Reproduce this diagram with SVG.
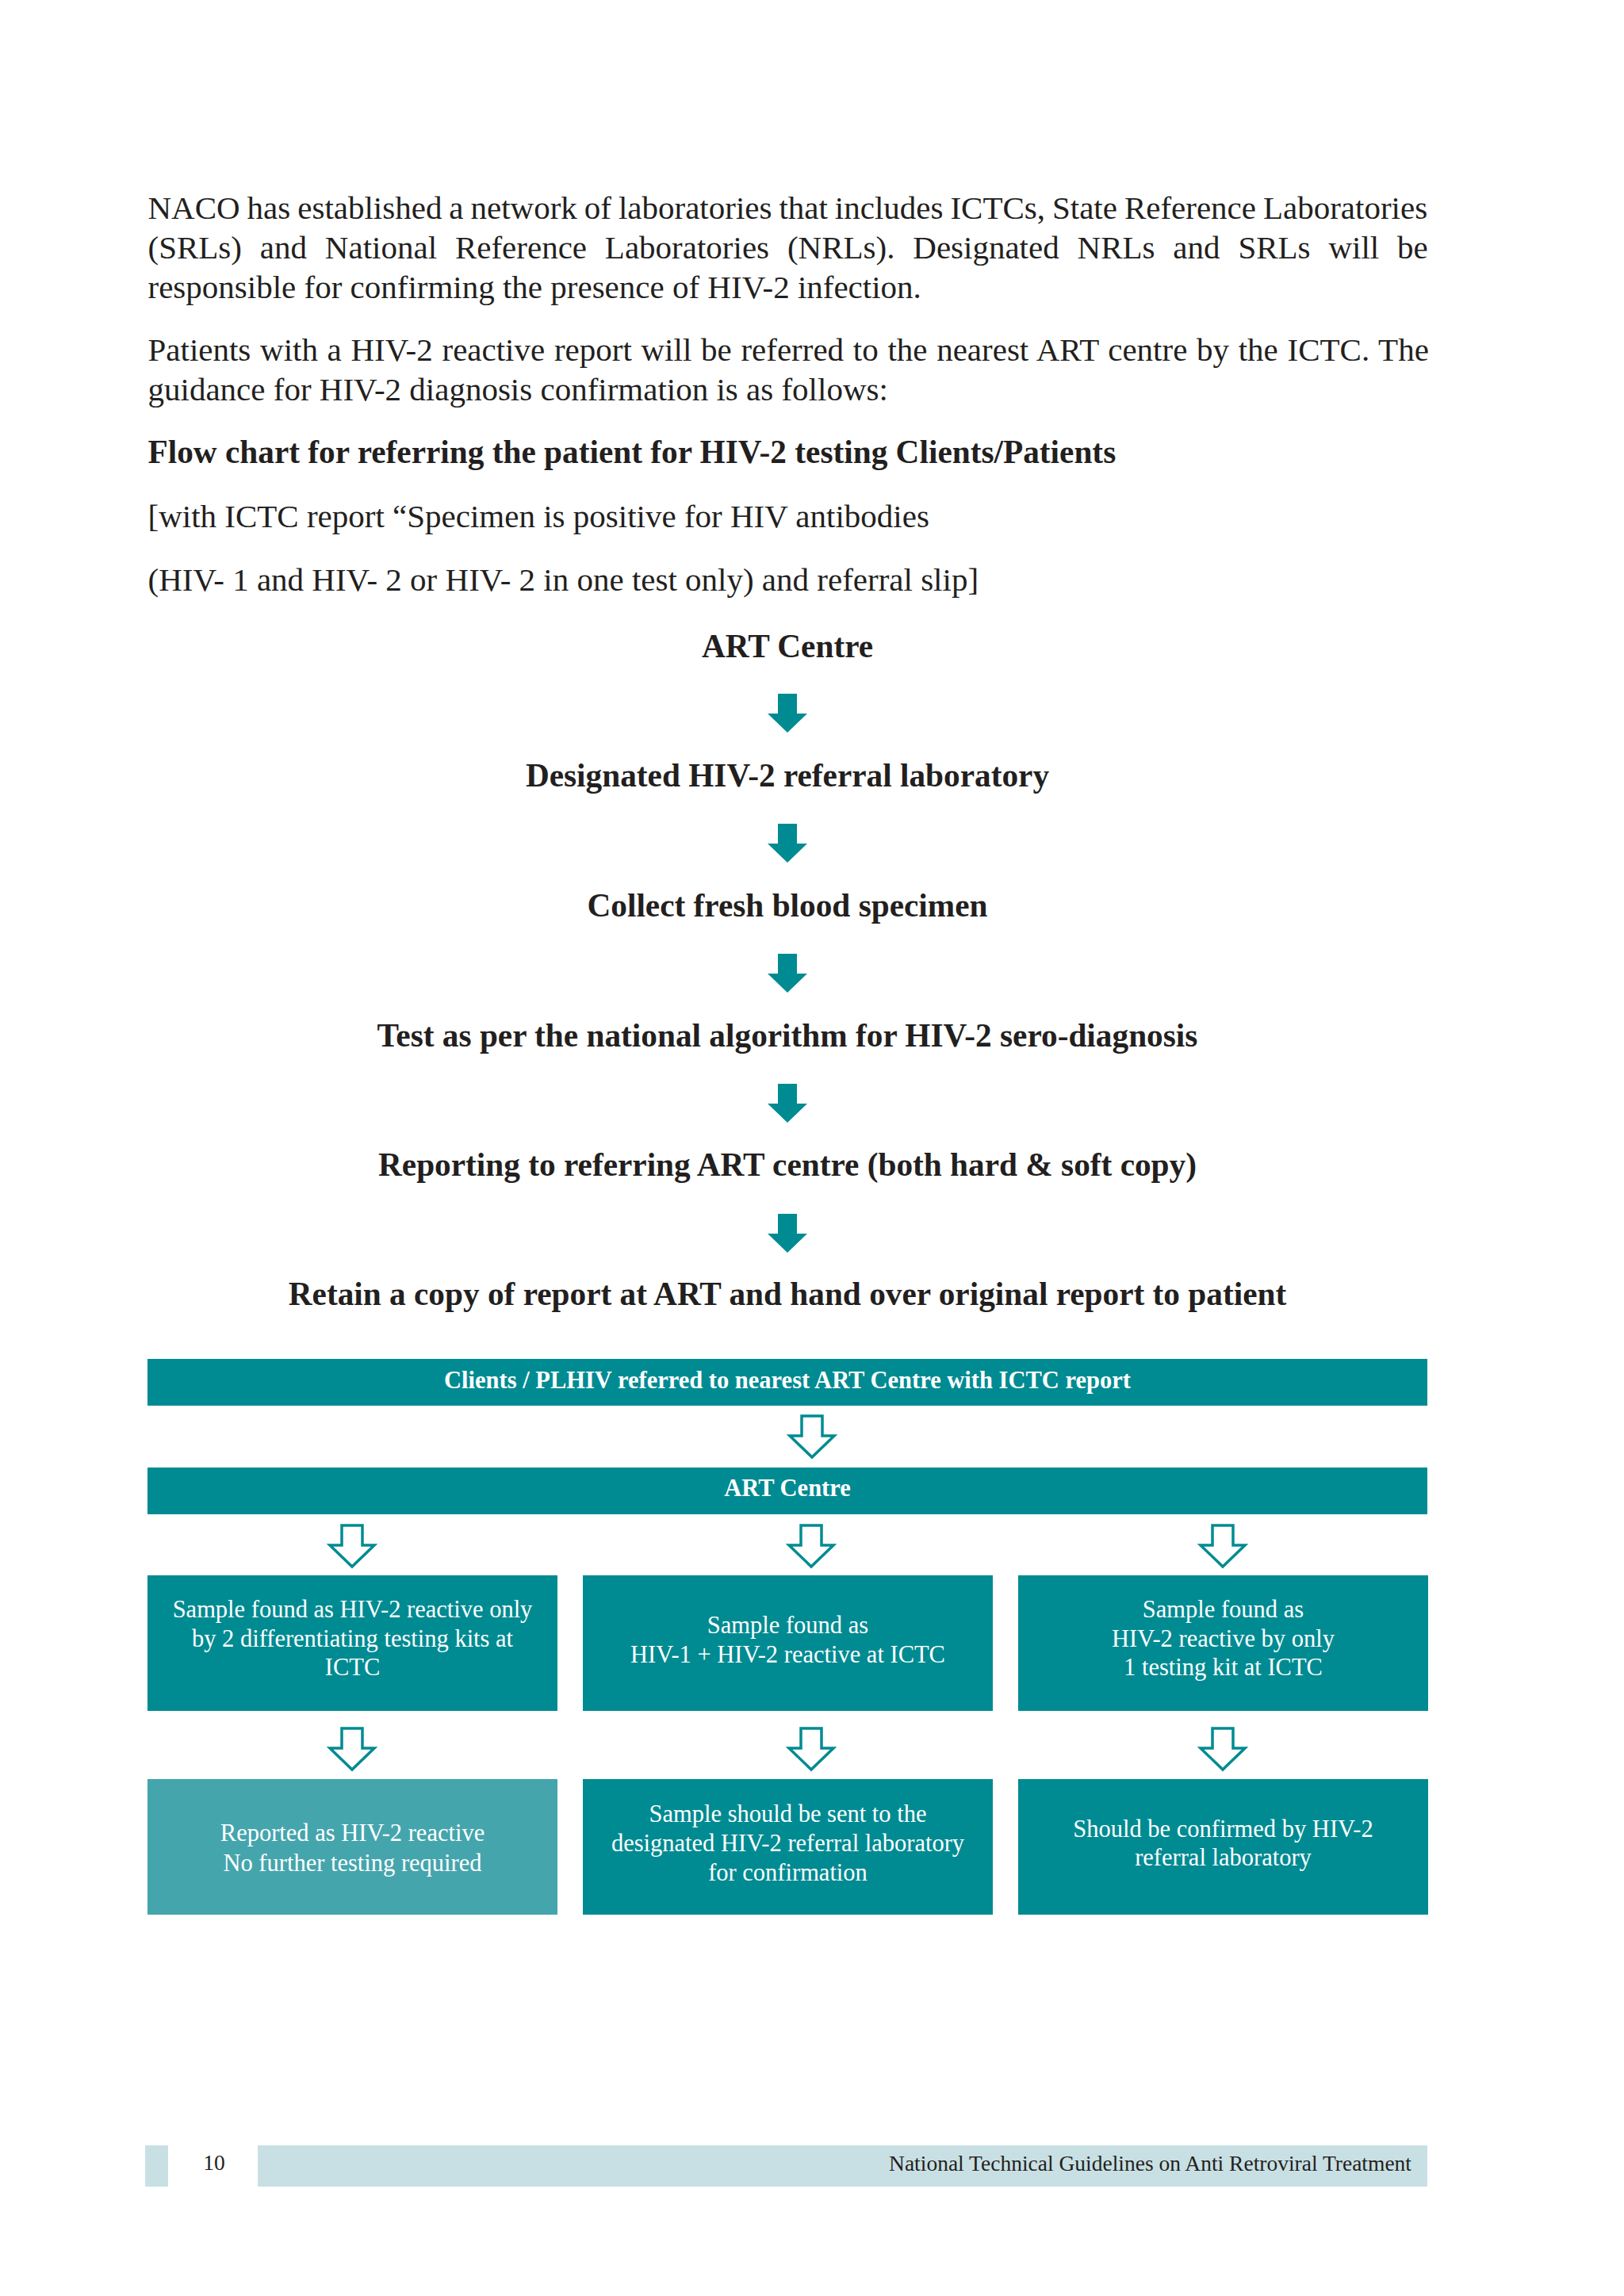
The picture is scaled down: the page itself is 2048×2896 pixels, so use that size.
<svg xmlns="http://www.w3.org/2000/svg" width="2048" height="2896" viewBox="0 0 2048 2896">
<style>
.body{font-family:"Liberation Serif","Times New Roman",serif;font-size:41px;fill:#231f20}
.bold{font-weight:bold;font-size:41.3px}
.ctr{text-anchor:middle}
.bar{fill:#008b92}
.light{fill:#45a5ad}
.wt{font-family:"Liberation Serif","Times New Roman",serif;font-size:30.5px;fill:#ffffff;text-anchor:middle}
.foot{font-family:"Liberation Serif","Times New Roman",serif;font-size:27.5px;fill:#231f20}
</style>
<defs>
<path id="solidArrow" d="M-12,0 H12 V25 H25 L0,49 L-25,25 H-12 Z" fill="#008b92"/>
<path id="hollowArrow" d="M-13,2 H13 V27 H28 L0,54 L-28,27 H-13 Z" fill="#ffffff" stroke="#008b92" stroke-width="3.5" stroke-linejoin="miter"/>
</defs>
<rect x="0" y="0" width="2048" height="2896" fill="#ffffff"/>

<g id="intro-text">
<text class="body" x="186.5" y="276" word-spacing="-1.3">NACO has established a network of laboratories that includes ICTCs, State Reference Laboratories</text>
<text class="body" x="186.5" y="326" word-spacing="12.6">(SRLs) and National Reference Laboratories (NRLs). Designated NRLs and SRLs will be</text>
<text class="body" x="186.5" y="376">responsible for confirming the presence of HIV-2 infection.</text>
<text class="body" x="186.5" y="455" word-spacing="1.45">Patients with a HIV-2 reactive report will be referred to the nearest ART centre by the ICTC. The</text>
<text class="body" x="186.5" y="505">guidance for HIV-2 diagnosis confirmation is as follows:</text>
<text class="body bold" x="186.5" y="584">Flow chart for referring the patient for HIV-2 testing Clients/Patients</text>
<text class="body" x="186.5" y="665">[with ICTC report “Specimen is positive for HIV antibodies</text>
<text class="body" x="186.5" y="745">(HIV- 1 and HIV- 2 or HIV- 2 in one test only) and referral slip]</text>
</g>

<g id="flow1-step1"><text class="body bold ctr" x="993" y="829">ART Centre</text></g>
<g id="flow1-step2"><text class="body bold ctr" x="993" y="992">Designated HIV-2 referral laboratory</text></g>
<g id="flow1-step3"><text class="body bold ctr" x="993" y="1156">Collect fresh blood specimen</text></g>
<g id="flow1-step4"><text class="body bold ctr" x="993" y="1320">Test as per the national algorithm for HIV-2 sero-diagnosis</text></g>
<g id="flow1-step5"><text class="body bold ctr" x="993" y="1483">Reporting to referring ART centre (both hard &amp; soft copy)</text></g>
<g id="flow1-step6"><text class="body bold ctr" x="993" y="1646">Retain a copy of report at ART and hand over original report to patient</text></g>

<g id="bar-clients">
<rect class="bar" x="186" y="1714" width="1614" height="59"/>
<text class="wt" font-weight="bold" x="993" y="1751">Clients / PLHIV referred to nearest ART Centre with ICTC report</text>
</g>
<g id="bar-art">
<rect class="bar" x="186" y="1851" width="1614" height="59"/>
<text class="wt" font-weight="bold" x="993" y="1887">ART Centre</text>
</g>

<g id="box-a1">
<rect class="bar" x="186" y="1987" width="517" height="171"/>
<text class="wt" x="444.5" y="2040">Sample found as HIV-2 reactive only</text>
<text class="wt" x="444.5" y="2077">by 2 differentiating testing kits at</text>
<text class="wt" x="444.5" y="2113">ICTC</text>
</g>
<g id="box-a2">
<rect class="bar" x="735" y="1987" width="517" height="171"/>
<text class="wt" x="993.5" y="2060">Sample found as</text>
<text class="wt" x="993.5" y="2097">HIV-1 + HIV-2 reactive at ICTC</text>
</g>
<g id="box-a3">
<rect class="bar" x="1284" y="1987" width="517" height="171"/>
<text class="wt" x="1542.5" y="2040">Sample found as</text>
<text class="wt" x="1542.5" y="2077">HIV-2 reactive by only</text>
<text class="wt" x="1542.5" y="2113">1 testing kit at ICTC</text>
</g>

<g id="box-b1">
<rect class="light" x="186" y="2244" width="517" height="171"/>
<text class="wt" x="444.5" y="2322">Reported as HIV-2 reactive</text>
<text class="wt" x="444.5" y="2360">No further testing required</text>
</g>
<g id="box-b2">
<rect class="bar" x="735" y="2244" width="517" height="171"/>
<text class="wt" x="993.5" y="2298">Sample should be sent to the</text>
<text class="wt" x="993.5" y="2335">designated HIV-2 referral laboratory</text>
<text class="wt" x="993.5" y="2372">for confirmation</text>
</g>
<g id="box-b3">
<rect class="bar" x="1284" y="2244" width="517" height="171"/>
<text class="wt" x="1542.5" y="2317">Should be confirmed by HIV-2</text>
<text class="wt" x="1542.5" y="2353">referral laboratory</text>
</g>

<g id="connectors">
<use href="#solidArrow" x="993" y="875"/>
<use href="#solidArrow" x="993" y="1039"/>
<use href="#solidArrow" x="993" y="1203"/>
<use href="#solidArrow" x="993" y="1367"/>
<use href="#solidArrow" x="993" y="1531"/>
<use href="#hollowArrow" x="1024" y="1784"/>
<use href="#hollowArrow" x="444" y="1922"/>
<use href="#hollowArrow" x="1023" y="1922"/>
<use href="#hollowArrow" x="1542" y="1922"/>
<use href="#hollowArrow" x="444" y="2178"/>
<use href="#hollowArrow" x="1023" y="2178"/>
<use href="#hollowArrow" x="1542" y="2178"/>
</g>

<g id="footer">
<rect x="183" y="2706" width="29" height="52" fill="#c8e0e4"/>
<rect x="325" y="2706" width="1475" height="52" fill="#c8e0e4"/>
<text class="foot" x="270" y="2737" text-anchor="middle">10</text>
<text class="foot" x="1780" y="2738" text-anchor="end">National Technical Guidelines on Anti Retroviral Treatment</text>
</g>
</svg>
